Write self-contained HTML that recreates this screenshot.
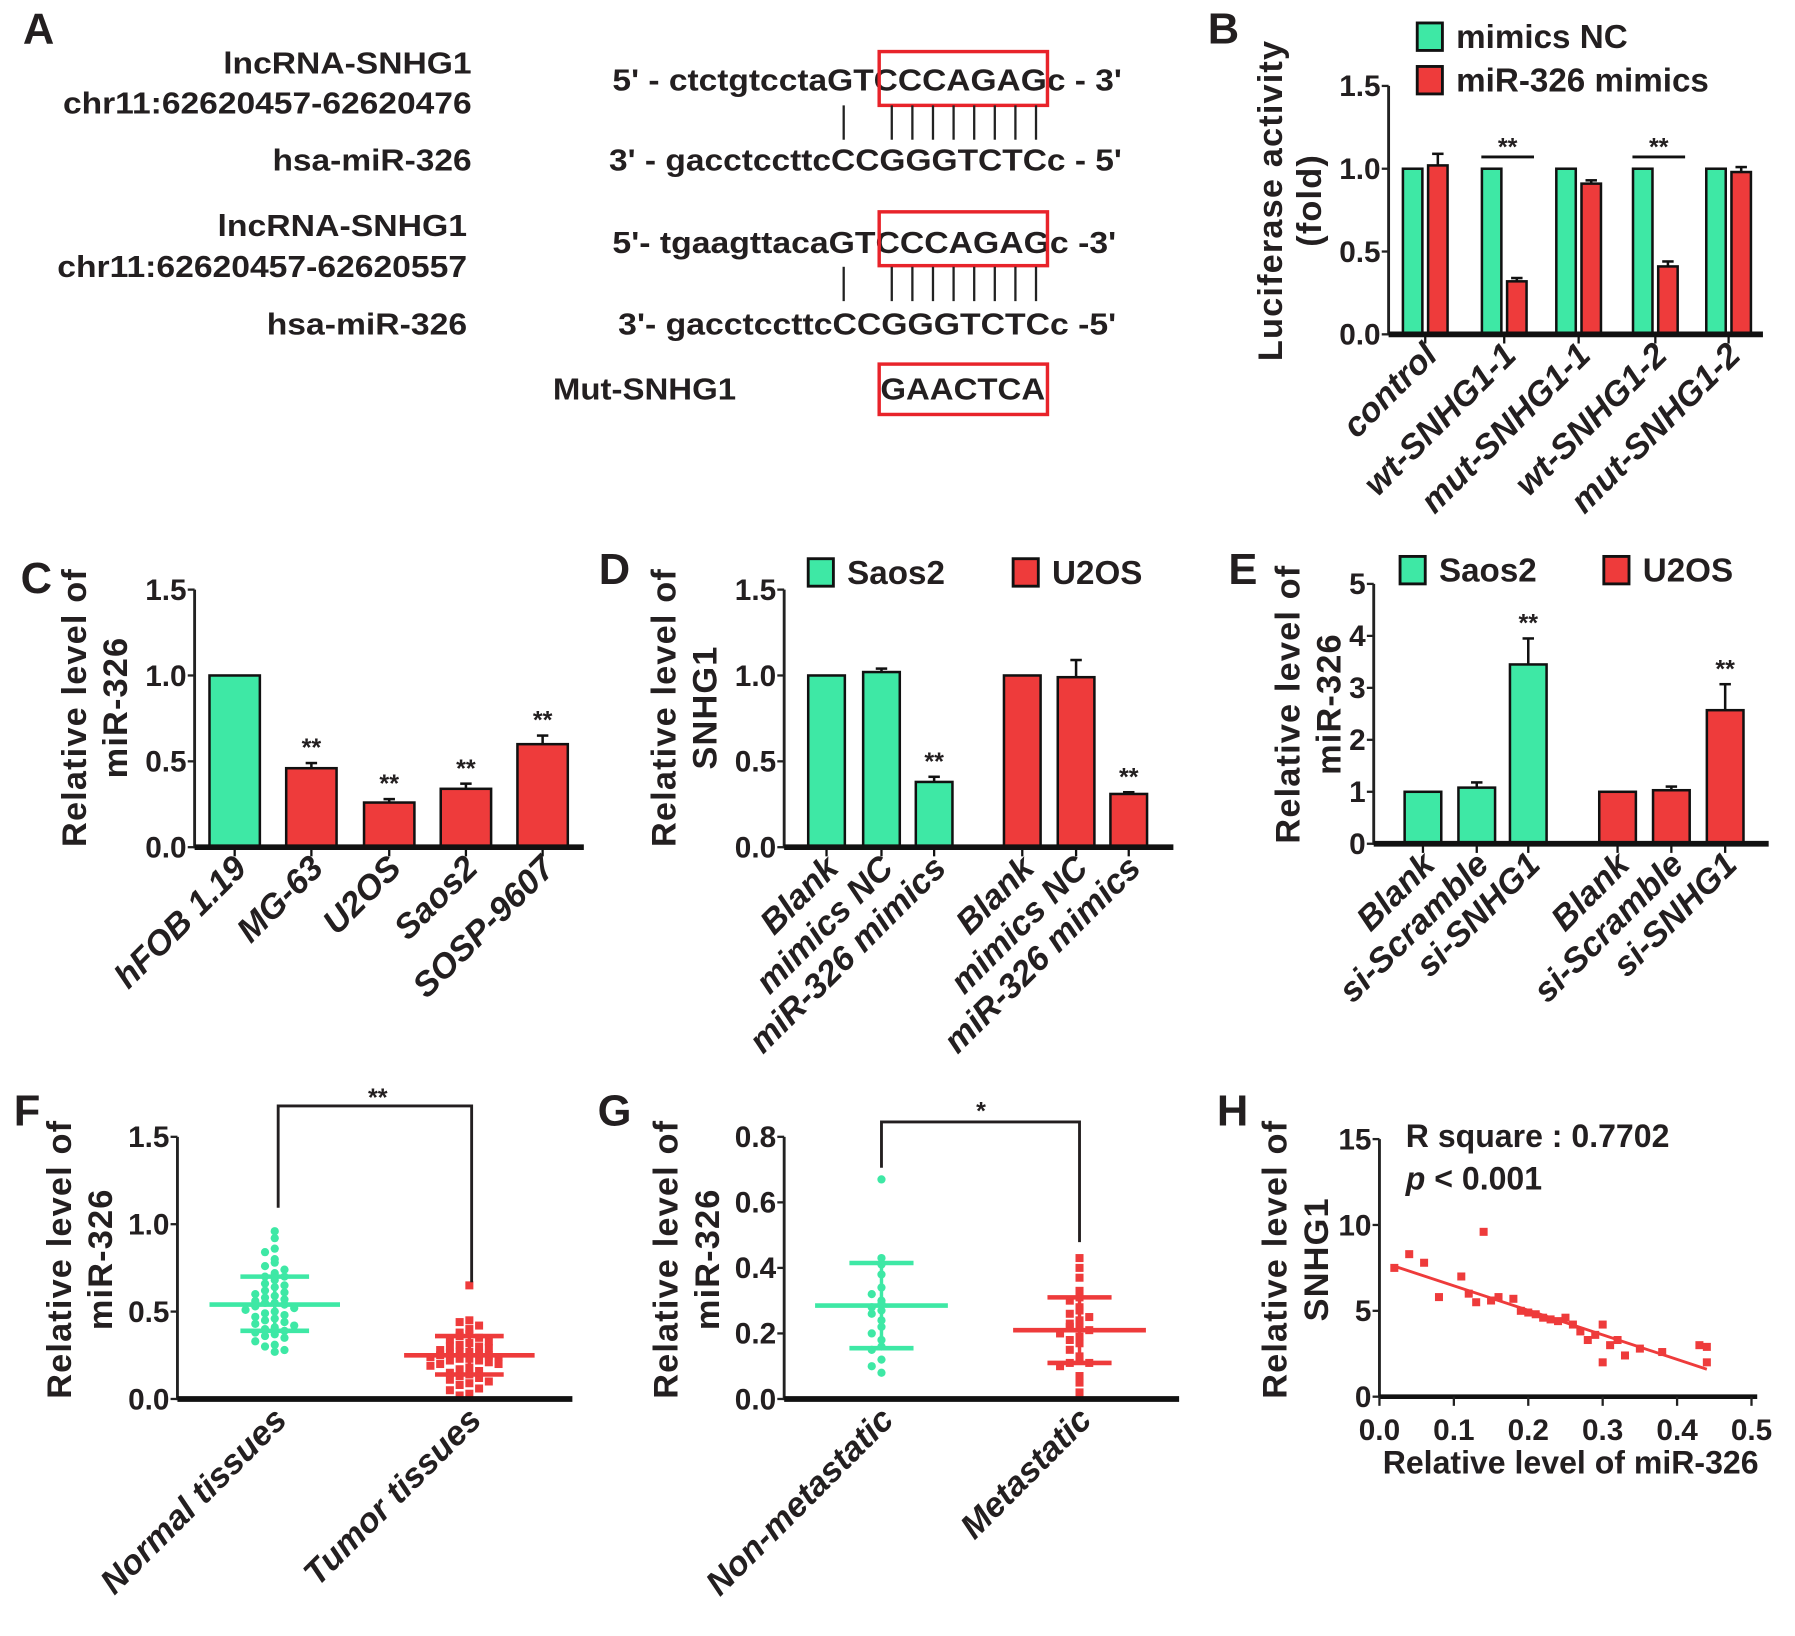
<!DOCTYPE html>
<html><head><meta charset="utf-8"><style>
html,body{margin:0;padding:0;background:#fff;}
svg{display:block;font-family:"Liberation Sans",Arial,sans-serif;}
text{font-weight:bold;fill:#231f20;}
</style></head><body>
<svg id="fig" width="1795" height="1636" viewBox="0 0 1568 1429" xmlns="http://www.w3.org/2000/svg">
<g font-size="27" fill="#333">
<text x="20" y="38" font-size="38">A</text>
<text x="195" y="64" textLength="217" lengthAdjust="spacingAndGlyphs">lncRNA-SNHG1</text>
<text x="55" y="99" textLength="357" lengthAdjust="spacingAndGlyphs">chr11:62620457-62620476</text>
<text x="238" y="149" textLength="174" lengthAdjust="spacingAndGlyphs">hsa-miR-326</text>
<text x="190" y="206" textLength="218" lengthAdjust="spacingAndGlyphs">lncRNA-SNHG1</text>
<text x="50" y="242" textLength="358" lengthAdjust="spacingAndGlyphs">chr11:62620457-62620557</text>
<text x="233" y="292" textLength="175" lengthAdjust="spacingAndGlyphs">hsa-miR-326</text>
<text x="535" y="79" textLength="445" lengthAdjust="spacingAndGlyphs">5' - ctctgtcctaGTCCCAGAGc - 3'</text>
<text x="532" y="149" textLength="448" lengthAdjust="spacingAndGlyphs">3' - gacctccttcCCGGGTCTCc - 5'</text>
<text x="535" y="221" textLength="440" lengthAdjust="spacingAndGlyphs">5'- tgaagttacaGTCCCAGAGc -3'</text>
<text x="540" y="292" textLength="435" lengthAdjust="spacingAndGlyphs">3'- gacctccttcCCGGGTCTCc -5'</text>
<text x="483" y="349" textLength="160" lengthAdjust="spacingAndGlyphs">Mut-SNHG1</text>
<text x="769" y="349" textLength="144" lengthAdjust="spacingAndGlyphs">GAACTCA</text>
<rect x="768" y="45" width="147" height="47" fill="none" stroke="#e8232a" stroke-width="3"/>
<rect x="768" y="185" width="147" height="47" fill="none" stroke="#e8232a" stroke-width="3"/>
<rect x="768" y="318" width="147" height="44" fill="none" stroke="#e8232a" stroke-width="3"/>
<g id="pairlines" stroke="#222" stroke-width="2"></g>
</g>
<g id="charts"></g>
</svg>
<script>
var NS="http://www.w3.org/2000/svg";
var GREEN="#3ee8a5",RED="#ee3b3b";
function el(tag,attrs,parent){var e=document.createElementNS(NS,tag);for(var k in attrs)e.setAttribute(k,attrs[k]);(parent||document.getElementById('charts')).appendChild(e);return e;}
function txt(x,y,s,size,anchor,parent,extra){var t=el('text',Object.assign({x:x,y:y,'font-size':size,'text-anchor':anchor||'start'},extra||{}),parent);t.textContent=s;return t;}
(function(){var pl=document.getElementById('pairlines');var xs=[737,779,797,815,833,851,869,887,905];
[[92,122],[233,263]].forEach(function(r){xs.forEach(function(x){var l=el('line',{x1:x,x2:x,y1:r[0],y2:r[1]},pl);

});});})();

// ===== data =====
var bCats=["control","wt-SNHG1-1","mut-SNHG1-1","wt-SNHG1-2","mut-SNHG1-2"];
var bNC=[1,1,1,1,1];
var bMim=[1.02,0.32,0.91,0.41,0.98];
var bMimErr=[0.07,0.02,0.02,0.03,0.03];
var bTicks=[0,0.5,1.0,1.5];

var cCats=["hFOB 1.19","MG-63","U2OS","Saos2","SOSP-9607"];
var cVals=[1.0,0.46,0.26,0.34,0.60];
var cErr=[0,0.03,0.02,0.03,0.05];
var cTicks=[0,0.5,1.0,1.5];

var dCats=["Blank","mimics NC","miR-326 mimics","Blank","mimics NC","miR-326 mimics"];
var dVals=[1.0,1.02,0.38,1.0,0.99,0.31];
var dErr=[0,0.02,0.03,0,0.1,0.01];
var dTicks=[0,0.5,1.0,1.5];

var eCats=["Blank","si-Scramble","si-SNHG1","Blank","si-Scramble","si-SNHG1"];
var eVals=[1.0,1.08,3.45,1.0,1.03,2.57];
var eErr=[0,0.1,0.5,0,0.07,0.5];
var eTicks=[0,1,2,3,4,5];

var fNormal=[0.96,0.92,0.86,0.84,0.80,0.78,0.76,0.74,0.72,0.70,0.70,0.68,0.66,0.65,0.64,0.62,0.61,0.60,0.59,0.58,0.57,0.56,0.55,0.55,0.54,0.53,0.52,0.51,0.50,0.49,0.48,0.47,0.46,0.45,0.44,0.43,0.42,0.41,0.40,0.39,0.38,0.37,0.36,0.35,0.33,0.31,0.30,0.28,0.27];
var fTumor=[0.65,0.45,0.44,0.42,0.40,0.38,0.37,0.36,0.35,0.34,0.33,0.32,0.31,0.30,0.30,0.29,0.28,0.27,0.27,0.26,0.26,0.25,0.25,0.24,0.24,0.23,0.23,0.22,0.22,0.21,0.20,0.20,0.19,0.18,0.17,0.16,0.15,0.14,0.13,0.12,0.11,0.10,0.09,0.08,0.06,0.05,0.03,0.02];
var fStats=[[0.54,0.39,0.70],[0.25,0.14,0.36]];
var fTicks=[0,0.5,1.0,1.5];

var gNon=[0.67,0.43,0.41,0.38,0.34,0.32,0.30,0.29,0.28,0.27,0.26,0.24,0.22,0.20,0.18,0.16,0.15,0.12,0.10,0.08];
var gMeta=[0.43,0.40,0.37,0.33,0.31,0.30,0.28,0.27,0.26,0.25,0.24,0.23,0.22,0.22,0.21,0.20,0.19,0.18,0.17,0.15,0.13,0.12,0.11,0.11,0.10,0.07,0.05,0.02];
var gStats=[[0.285,0.155,0.415],[0.21,0.11,0.31]];
var gTicks=[0,0.2,0.4,0.6,0.8];

var hX=[0.02,0.04,0.06,0.08,0.11,0.12,0.13,0.14,0.15,0.16,0.18,0.19,0.20,0.21,0.22,0.23,0.24,0.25,0.26,0.27,0.28,0.29,0.30,0.30,0.31,0.32,0.33,0.35,0.38,0.43,0.44,0.44];
var hY=[7.5,8.3,7.8,5.8,7.0,6.0,5.5,9.6,5.6,5.8,5.7,5.0,4.9,4.8,4.6,4.5,4.4,4.6,4.2,3.8,3.3,3.6,4.2,2.0,3.0,3.3,2.4,2.8,2.6,3.0,2.0,2.9];
var hFit=[[0.02,7.6],[0.44,1.6]];
var hXTicks=[0,0.1,0.2,0.3,0.4,0.5];
var hYTicks=[0,5,10,15];

// ===== helpers =====
function scale(d0,d1,r0,r1){return function(v){return r0+(v-d0)/(d1-d0)*(r1-r0);};}
function yAxis(g,x,y,ticks,fmt,size){el('line',{x1:x,x2:x,y1:y(ticks[ticks.length-1]),y2:y(ticks[0])+1,stroke:'#222','stroke-width':2.5},g);
ticks.forEach(function(t){el('line',{x1:x-6,x2:x,y1:y(t),y2:y(t),stroke:'#222','stroke-width':2},g);
var lb=txt(x-7,y(t)+9,fmt(t),size||26,'end',g);

});}
function xAxis(g,x0,x1,y,w){var l=el('line',{x1:x0,x2:x1,y1:y,y2:y,stroke:'#111','stroke-width':w||5},g);

}
function rotLabel(g,x,y,s){var t=txt(x,y,s,30,'end',g,{'font-style':'italic',transform:'rotate(-45 '+x+' '+y+')'});

}
function yTitle(g,x,yc,lines,dx){lines.forEach(function(s,i){var xx=x+i*dx;var t=txt(xx,yc,s,30,'middle',g,{transform:'rotate(-90 '+xx+' '+yc+')','letter-spacing':'1'});

});}
function panelLabel(g,x,y,s){var t=txt(x,y,s,38,'start',g);

}
function bar(g,cx,w,y,v,color,err){var b=el('rect',{x:cx-w/2,y:y(v),width:w,height:y(0)-y(v),fill:color,stroke:'#111','stroke-width':2.2},g);


if(err>0){el('line',{x1:cx,x2:cx,y1:y(v),y2:y(v+err),stroke:'#111','stroke-width':2.2},g);el('line',{x1:cx-5,x2:cx+5,y1:y(v+err),y2:y(v+err),stroke:'#111','stroke-width':2.2},g);}}
function stars(g,x,y,s){var t=txt(x,y,s,22,'middle',g);

}
function legend(g,x,y,color,s){var r=el('rect',{x:x,y:y,width:22,height:24,fill:color,stroke:'#111','stroke-width':2.5},g);


var t=txt(x+34,y+22,s,29,'start',g);

}
function f1(t){return t.toFixed(1);}
function f0(t){return String(t);}

// ===== panel B =====
(function(){var g=el('g',{});
panelLabel(g,1055,38,'B');
var y=scale(0,1.5,292,75);var centers=[1245,1314,1379,1446,1510];
bCats.forEach(function(c,i){bar(g,centers[i]-11,17,y,bNC[i],GREEN,0);bar(g,centers[i]+11,17,y,bMim[i],RED,bMimErr[i]);
el('line',{x1:centers[i],x2:centers[i],y1:292,y2:300,stroke:'#111','stroke-width':2},g);
rotLabel(g,centers[i]+12,312,c);});
yAxis(g,1213,y,bTicks,f1);xAxis(g,1213,1540,292);
[1,3].forEach(function(i){el('line',{x1:centers[i]-20,x2:centers[i]+26,y1:137,y2:137,stroke:'#111','stroke-width':2.5},g);stars(g,centers[i]+3,136,'**');});
legend(g,1238,20,GREEN,'mimics NC');legend(g,1238,58,RED,'miR-326 mimics');
yTitle(g,1120,175,['Luciferase activity','(fold)'],34);})();

// ===== panel C =====
(function(){var g=el('g',{});
panelLabel(g,18,518,'C');
var y=scale(0,1.5,740,515);var centers=[205,272,340,407,474];
cCats.forEach(function(c,i){bar(g,centers[i],44,y,cVals[i],i==0?GREEN:RED,cErr[i]);
if(i>0)stars(g,centers[i],y(cVals[i]+cErr[i])-6,'**');
el('line',{x1:centers[i],x2:centers[i],y1:740,y2:748,stroke:'#111','stroke-width':2},g);
rotLabel(g,centers[i]+12,760,c);});
yAxis(g,170,y,cTicks,f1);xAxis(g,170,510,740);
yTitle(g,75,618,['Relative level of','miR-326'],36);})();

// ===== panel D =====
(function(){var g=el('g',{});
panelLabel(g,523,510,'D');
var y=scale(0,1.5,740,515);var centers=[722,770,816,893,940,986];
dCats.forEach(function(c,i){bar(g,centers[i],32,y,dVals[i],i<3?GREEN:RED,dErr[i]);
if(i%3==2)stars(g,centers[i],y(dVals[i]+dErr[i])-6,'**');
el('line',{x1:centers[i],x2:centers[i],y1:740,y2:748,stroke:'#111','stroke-width':2},g);
rotLabel(g,centers[i]+12,760,c);});
yAxis(g,685,y,dTicks,f1);xAxis(g,685,1025,740);
legend(g,706,488,GREEN,'Saos2');legend(g,885,488,RED,'U2OS');
yTitle(g,590,618,['Relative level of','SNHG1'],36);})();

// ===== panel E =====
(function(){var g=el('g',{});
panelLabel(g,1073,510,'E');
var y=scale(0,5,737,510);var centers=[1243,1290,1335,1413,1460,1507];
eCats.forEach(function(c,i){bar(g,centers[i],32,y,eVals[i],i<3?GREEN:RED,eErr[i]);
if(i%3==2)stars(g,centers[i],y(eVals[i]+eErr[i])-6,'**');
el('line',{x1:centers[i],x2:centers[i],y1:737,y2:745,stroke:'#111','stroke-width':2},g);
rotLabel(g,centers[i]+12,757,c);});
yAxis(g,1200,y,eTicks,f0);xAxis(g,1200,1545,737);
legend(g,1223,486,GREEN,'Saos2');legend(g,1401,486,RED,'U2OS');
yTitle(g,1135,615,['Relative level of','miR-326'],36);})();

function swarm(g,cx,y,vals,color,shape){var bins={};vals.forEach(function(v){var py=y(v);var k=Math.round(py/7);bins[k]=(bins[k]||0)+1;var n=bins[k]-1;var off=(n==0)?0:(n%2? -1:1)*Math.ceil(n/2)*8.5;
var m;if(shape=='sq'){m=el('rect',{x:cx+off-3.5,y:py-3.5,width:7,height:7,fill:color},g);}else{m=el('circle',{cx:cx+off,cy:py,r:3.6,fill:color},g);}

});}
function stat(g,cx,y,s,color,mw,sw){el('line',{x1:cx-mw,x2:cx+mw,y1:y(s[0]),y2:y(s[0]),stroke:color,'stroke-width':4},g);
el('line',{x1:cx-sw,x2:cx+sw,y1:y(s[1]),y2:y(s[1]),stroke:color,'stroke-width':4},g);
el('line',{x1:cx-sw,x2:cx+sw,y1:y(s[2]),y2:y(s[2]),stroke:color,'stroke-width':4},g);
el('line',{x1:cx,x2:cx,y1:y(s[1]),y2:y(s[2]),stroke:color,'stroke-width':3},g);}

// ===== panel F =====
(function(){var g=el('g',{});
panelLabel(g,12,983,'F');
var y=scale(0,1.5,1222,993);
swarm(g,240,y,fNormal,GREEN,'c');swarm(g,410,y,fTumor,RED,'sq');
stat(g,240,y,fStats[0],GREEN,57,30);stat(g,410,y,fStats[1],RED,57,30);
yAxis(g,155,y,fTicks,f1);xAxis(g,155,500,1222);
el('path',{d:'M243 1055 V966 H412 V1120',fill:'none',stroke:'#231f20','stroke-width':2.5},g);
stars(g,330,966,'**');
rotLabel(g,252,1242,'Normal tissues');rotLabel(g,422,1242,'Tumor tissues');
yTitle(g,62,1100,['Relative level of','miR-326'],36);})();

// ===== panel G =====
(function(){var g=el('g',{});
panelLabel(g,522,983,'G');
var y=scale(0,0.8,1222,993);
swarm(g,770,y,gNon,GREEN,'c');swarm(g,943,y,gMeta,RED,'sq');
stat(g,770,y,gStats[0],GREEN,58,28);stat(g,943,y,gStats[1],RED,58,28);
yAxis(g,685,y,gTicks,f1);xAxis(g,685,1030,1222);
el('path',{d:'M770 1020 V980 H943 V1085',fill:'none',stroke:'#231f20','stroke-width':2.5},g);
stars(g,857,978,'*');
rotLabel(g,782,1242,'Non-metastatic');rotLabel(g,955,1242,'Metastatic');
yTitle(g,592,1100,['Relative level of','miR-326'],36);})();

// ===== panel H =====
(function(){var g=el('g',{});
panelLabel(g,1063,983,'H');
var y=scale(0,15,1220,995);var x=scale(0,0.5,1205,1530);
yAxis(g,1205,y,hYTicks,f0);xAxis(g,1205,1535,1220,4);
hXTicks.forEach(function(t){el('line',{x1:x(t),x2:x(t),y1:1220,y2:1228,stroke:'#222','stroke-width':2},g);
var lb=txt(x(t),1258,t.toFixed(1),26,'middle',g);

});
hX.forEach(function(v,i){var p=el('rect',{x:x(v)-3.5,y:y(hY[i])-3.5,width:7,height:7,fill:RED},g);

});
var fl=el('line',{x1:x(hFit[0][0]),y1:y(hFit[0][1]),x2:x(hFit[1][0]),y2:y(hFit[1][1]),stroke:RED,'stroke-width':2.5},g);


var t1=txt(1228,1002,'R square : 0.7702',28,'start',g);


var t2=el('text',{x:1228,y:1039,'font-size':28},g);t2.innerHTML='<tspan font-style="italic">p</tspan> &lt; 0.001';


var xt=txt(1372,1287,'Relative level of miR-326',28,'middle',g);


yTitle(g,1124,1100,['Relative level of','SNHG1'],36);})();
</script>
</body></html>
